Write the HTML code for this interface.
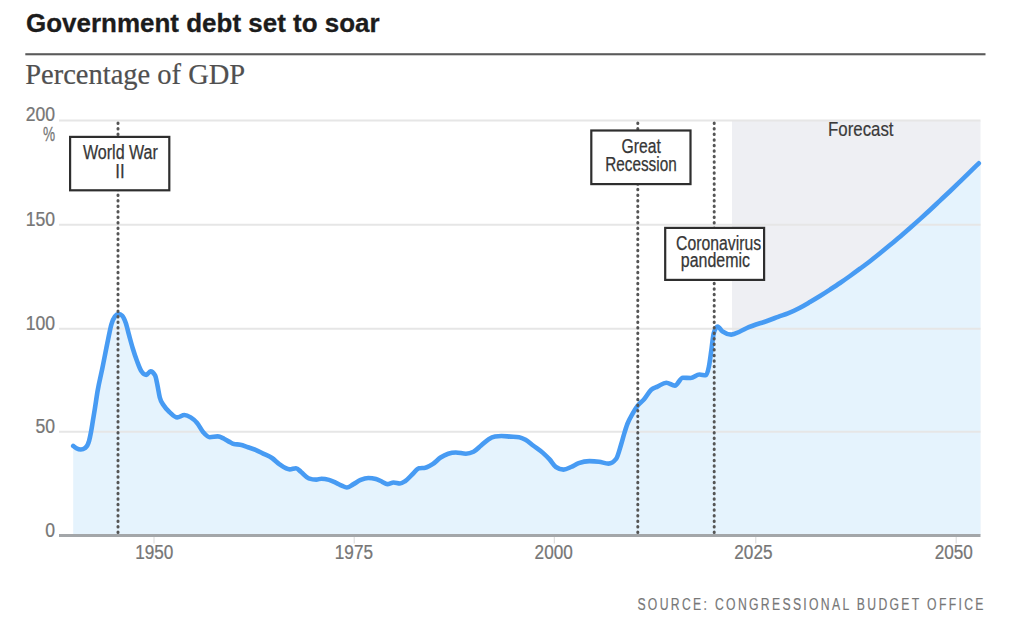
<!DOCTYPE html>
<html><head><meta charset="utf-8">
<style>
html,body{margin:0;padding:0;background:#fff;width:1024px;height:631px;overflow:hidden}
svg{display:block}
.s{font-family:"Liberation Sans",sans-serif}
.sf{font-family:"Liberation Serif",serif}
</style></head>
<body>
<svg width="1024" height="631" viewBox="0 0 1024 631">
<rect width="1024" height="631" fill="#fff"/>
<text class="s" x="26" y="31.5" font-size="26.5" font-weight="bold" fill="#1c1c1c" stroke="#1c1c1c" stroke-width="0.3" textLength="353.6" lengthAdjust="spacingAndGlyphs">Government debt set to soar</text>
<rect x="25.3" y="53.2" width="960.2" height="2.1" fill="#5a5a5a"/>
<text class="sf" x="25.2" y="83.5" font-size="28.6" fill="#505050" stroke="#505050" stroke-width="0.2" textLength="220" lengthAdjust="spacingAndGlyphs">Percentage of GDP</text>

<!-- forecast shade -->
<rect x="732" y="121" width="248.5" height="414" fill="#eeeff3"/>
<!-- fill -->
<path d="M73.2,445.9 C74.27,446.76 75.33,447.62 76.4,448.2 C77.87,448.99 79.33,449.50 80.8,449.5 C82.30,449.50 83.80,448.93 85.3,447.8 C86.57,446.84 87.83,445.47 89.1,440.8 C89.73,438.47 90.37,435.37 91.0,432.0 C91.63,428.63 92.27,424.40 92.9,420.6 C93.53,416.80 94.17,413.13 94.8,409.2 C95.73,403.41 96.67,396.47 97.6,391.0 C99.17,381.82 100.73,376.15 102.3,368.5 C104.20,359.22 106.10,349.04 108.0,340.0 C109.13,334.60 110.27,328.20 111.4,324.3 C112.60,320.17 113.80,318.05 115.0,316.4 C116.17,314.80 117.33,314.00 118.5,314.0 C119.70,314.00 120.90,314.57 122.1,315.7 C123.30,316.83 124.50,319.39 125.7,322.8 C126.87,326.11 128.03,331.47 129.2,335.7 C130.40,340.05 131.60,344.55 132.8,348.5 C134.23,353.22 135.67,357.50 137.1,361.3 C138.53,365.10 139.97,369.19 141.4,371.3 C143.03,373.70 144.67,374.90 146.3,374.9 C147.70,374.90 149.10,371.40 150.5,371.4 C152.03,371.40 153.57,372.73 155.1,375.4 C155.87,376.73 156.63,381.31 157.4,384.9 C158.20,388.64 159.00,394.30 159.8,397.5 C161.13,402.83 162.47,403.29 163.8,405.5 C165.90,408.99 168.00,410.68 170.1,412.6 C172.47,414.77 174.83,417.40 177.2,417.4 C179.60,417.40 182.00,415.00 184.4,415.0 C186.50,415.00 188.60,416.10 190.7,417.4 C192.83,418.72 194.97,420.37 197.1,422.9 C199.20,425.39 201.30,430.02 203.4,432.4 C205.50,434.78 207.60,437.20 209.7,437.2 C212.37,437.20 215.03,436.40 217.7,436.4 C219.80,436.40 221.90,437.69 224.0,438.7 C225.83,439.58 227.67,440.92 229.5,441.9 C230.97,442.69 232.43,443.83 233.9,444.1 C236.03,444.50 238.17,444.30 240.3,444.7 C242.83,445.17 245.37,446.35 247.9,447.2 C250.43,448.05 252.97,448.73 255.5,449.8 C258.03,450.87 260.57,452.34 263.1,453.6 C266.07,455.08 269.03,455.98 272.0,458.0 C274.53,459.73 277.07,462.64 279.6,464.4 C282.97,466.73 286.33,469.40 289.7,469.4 C291.80,469.40 293.90,468.20 296.0,468.2 C297.70,468.20 299.40,470.68 301.1,472.0 C303.63,473.97 306.17,477.43 308.7,478.3 C311.23,479.17 313.77,479.60 316.3,479.6 C318.00,479.60 319.70,478.70 321.4,478.7 C323.93,478.70 326.47,479.17 329.0,479.9 C331.53,480.63 334.07,481.93 336.6,483.1 C338.30,483.89 340.00,484.87 341.7,485.6 C343.40,486.33 345.10,487.50 346.8,487.5 C348.90,487.50 351.00,485.53 353.1,484.4 C355.63,483.04 358.17,480.97 360.7,479.9 C363.23,478.83 365.77,478.00 368.3,478.0 C370.83,478.00 373.37,478.33 375.9,479.0 C378.00,479.55 380.10,480.86 382.2,481.8 C383.90,482.56 385.60,484.10 387.3,484.1 C389.40,484.10 391.50,482.50 393.6,482.5 C395.73,482.50 397.87,483.50 400.0,483.5 C401.70,483.50 403.40,482.31 405.1,481.2 C407.63,479.55 410.17,476.34 412.7,474.0 C414.80,472.06 416.90,468.70 419.0,468.3 C421.10,467.90 423.20,468.10 425.3,467.7 C427.87,467.21 430.43,465.62 433.0,463.9 C435.53,462.21 438.07,459.20 440.6,457.5 C443.13,455.80 445.67,454.50 448.2,453.7 C450.73,452.90 453.27,452.50 455.8,452.5 C459.17,452.50 462.53,453.70 465.9,453.7 C468.43,453.70 470.97,453.07 473.5,451.8 C476.03,450.53 478.57,447.60 481.1,445.5 C483.63,443.40 486.17,440.72 488.7,439.2 C490.83,437.92 492.97,437.01 495.1,436.6 C497.20,436.20 499.30,436.00 501.4,436.0 C504.37,436.00 507.33,436.40 510.3,436.6 C513.27,436.80 516.23,436.80 519.2,437.2 C521.30,437.48 523.40,438.61 525.5,439.8 C528.03,441.23 530.57,443.60 533.1,445.5 C536.47,448.03 539.83,450.09 543.2,453.1 C545.33,455.01 547.47,457.06 549.6,459.4 C551.70,461.70 553.80,465.56 555.9,467.0 C558.43,468.73 560.97,469.60 563.5,469.6 C566.03,469.60 568.57,468.07 571.1,467.0 C573.63,465.93 576.17,464.15 578.7,463.2 C582.30,461.85 585.90,461.10 589.5,461.1 C592.67,461.10 595.83,461.30 599.0,461.7 C602.17,462.10 605.33,463.60 608.5,463.6 C611.03,463.60 613.57,462.03 616.1,458.9 C617.77,456.84 619.43,449.90 621.1,444.5 C622.17,441.05 623.23,436.88 624.3,433.4 C625.33,430.03 626.37,426.63 627.4,423.9 C629.00,419.68 630.60,417.27 632.2,414.4 C634.03,411.11 635.87,408.11 637.7,405.7 C639.83,402.90 641.97,401.78 644.1,399.3 C646.47,396.55 648.83,391.93 651.2,389.8 C653.30,387.91 655.40,387.61 657.5,386.6 C660.43,385.19 663.37,382.70 666.3,382.7 C669.17,382.70 672.03,385.60 674.9,385.6 C677.53,385.60 680.17,377.70 682.8,377.7 C685.43,377.70 688.07,378.00 690.7,378.0 C693.60,378.00 696.50,374.50 699.4,374.5 C701.53,374.50 703.67,375.30 705.8,375.3 C706.83,375.30 707.87,371.72 708.9,366.6 C709.70,362.63 710.50,356.25 711.3,350.7 C712.10,345.15 712.90,336.05 713.7,333.3 C715.00,328.83 716.30,326.60 717.6,326.6 C719.20,326.60 720.80,330.25 722.4,331.4 C725.37,333.53 728.33,334.60 731.3,334.6 C734.20,334.60 737.10,332.72 740.0,331.5 C742.93,330.26 745.87,328.45 748.8,327.2 C751.20,326.18 753.60,325.32 756.0,324.5 C758.50,323.65 761.00,323.03 763.5,322.2 C766.00,321.37 768.50,320.43 771.0,319.5 C773.37,318.62 775.73,317.67 778.1,316.8 C781.37,315.60 784.63,314.71 787.9,313.4 C791.93,311.78 795.97,309.82 800.0,307.7 C803.33,305.95 806.67,303.95 810.0,302.0 C813.33,300.05 816.67,298.07 820.0,296.0 C823.33,293.93 826.67,291.77 830.0,289.6 C833.33,287.43 836.67,285.27 840.0,283.0 C843.33,280.73 846.67,278.38 850.0,276.0 C853.33,273.62 856.67,271.17 860.0,268.7 C863.33,266.23 866.67,263.77 870.0,261.2 C873.33,258.63 876.67,255.98 880.0,253.3 C883.33,250.62 886.67,247.87 890.0,245.1 C893.33,242.33 896.67,239.55 900.0,236.7 C903.33,233.85 906.67,230.93 910.0,228.0 C913.33,225.07 916.67,222.10 920.0,219.1 C923.33,216.10 926.67,213.08 930.0,210.0 C933.33,206.92 936.67,203.73 940.0,200.6 C943.33,197.47 946.67,194.37 950.0,191.2 C953.33,188.03 956.67,184.82 960.0,181.6 C963.33,178.38 966.67,175.15 970.0,171.9 C972.93,169.04 975.87,166.17 978.8,163.3 L980.3,161.3 L980.3,535 L73.2,535 Z" fill="#e5f3fd"/>
<!-- gridlines -->
<g stroke="#e6e6e6" stroke-width="2">
<line x1="59" y1="120.4" x2="980.5" y2="120.4"/>
<line x1="59" y1="224.8" x2="980.5" y2="224.8"/>
<line x1="59" y1="328.7" x2="980.5" y2="328.7"/>
<line x1="59" y1="431.7" x2="980.5" y2="431.7"/>
</g>
<!-- axis -->
<rect x="59" y="534" width="921.5" height="3" fill="#a3a6a9"/>
<g stroke="#d8d8d8" stroke-width="1">
<line x1="154" y1="537" x2="154" y2="543.5"/>
<line x1="354.2" y1="537" x2="354.2" y2="543.5"/>
<line x1="554.3" y1="537" x2="554.3" y2="543.5"/>
<line x1="755.8" y1="537" x2="755.8" y2="543.5"/>
<line x1="956.2" y1="537" x2="956.2" y2="543.5"/>
</g>
<!-- data line -->
<path d="M73.2,445.9 C74.27,446.76 75.33,447.62 76.4,448.2 C77.87,448.99 79.33,449.50 80.8,449.5 C82.30,449.50 83.80,448.93 85.3,447.8 C86.57,446.84 87.83,445.47 89.1,440.8 C89.73,438.47 90.37,435.37 91.0,432.0 C91.63,428.63 92.27,424.40 92.9,420.6 C93.53,416.80 94.17,413.13 94.8,409.2 C95.73,403.41 96.67,396.47 97.6,391.0 C99.17,381.82 100.73,376.15 102.3,368.5 C104.20,359.22 106.10,349.04 108.0,340.0 C109.13,334.60 110.27,328.20 111.4,324.3 C112.60,320.17 113.80,318.05 115.0,316.4 C116.17,314.80 117.33,314.00 118.5,314.0 C119.70,314.00 120.90,314.57 122.1,315.7 C123.30,316.83 124.50,319.39 125.7,322.8 C126.87,326.11 128.03,331.47 129.2,335.7 C130.40,340.05 131.60,344.55 132.8,348.5 C134.23,353.22 135.67,357.50 137.1,361.3 C138.53,365.10 139.97,369.19 141.4,371.3 C143.03,373.70 144.67,374.90 146.3,374.9 C147.70,374.90 149.10,371.40 150.5,371.4 C152.03,371.40 153.57,372.73 155.1,375.4 C155.87,376.73 156.63,381.31 157.4,384.9 C158.20,388.64 159.00,394.30 159.8,397.5 C161.13,402.83 162.47,403.29 163.8,405.5 C165.90,408.99 168.00,410.68 170.1,412.6 C172.47,414.77 174.83,417.40 177.2,417.4 C179.60,417.40 182.00,415.00 184.4,415.0 C186.50,415.00 188.60,416.10 190.7,417.4 C192.83,418.72 194.97,420.37 197.1,422.9 C199.20,425.39 201.30,430.02 203.4,432.4 C205.50,434.78 207.60,437.20 209.7,437.2 C212.37,437.20 215.03,436.40 217.7,436.4 C219.80,436.40 221.90,437.69 224.0,438.7 C225.83,439.58 227.67,440.92 229.5,441.9 C230.97,442.69 232.43,443.83 233.9,444.1 C236.03,444.50 238.17,444.30 240.3,444.7 C242.83,445.17 245.37,446.35 247.9,447.2 C250.43,448.05 252.97,448.73 255.5,449.8 C258.03,450.87 260.57,452.34 263.1,453.6 C266.07,455.08 269.03,455.98 272.0,458.0 C274.53,459.73 277.07,462.64 279.6,464.4 C282.97,466.73 286.33,469.40 289.7,469.4 C291.80,469.40 293.90,468.20 296.0,468.2 C297.70,468.20 299.40,470.68 301.1,472.0 C303.63,473.97 306.17,477.43 308.7,478.3 C311.23,479.17 313.77,479.60 316.3,479.6 C318.00,479.60 319.70,478.70 321.4,478.7 C323.93,478.70 326.47,479.17 329.0,479.9 C331.53,480.63 334.07,481.93 336.6,483.1 C338.30,483.89 340.00,484.87 341.7,485.6 C343.40,486.33 345.10,487.50 346.8,487.5 C348.90,487.50 351.00,485.53 353.1,484.4 C355.63,483.04 358.17,480.97 360.7,479.9 C363.23,478.83 365.77,478.00 368.3,478.0 C370.83,478.00 373.37,478.33 375.9,479.0 C378.00,479.55 380.10,480.86 382.2,481.8 C383.90,482.56 385.60,484.10 387.3,484.1 C389.40,484.10 391.50,482.50 393.6,482.5 C395.73,482.50 397.87,483.50 400.0,483.5 C401.70,483.50 403.40,482.31 405.1,481.2 C407.63,479.55 410.17,476.34 412.7,474.0 C414.80,472.06 416.90,468.70 419.0,468.3 C421.10,467.90 423.20,468.10 425.3,467.7 C427.87,467.21 430.43,465.62 433.0,463.9 C435.53,462.21 438.07,459.20 440.6,457.5 C443.13,455.80 445.67,454.50 448.2,453.7 C450.73,452.90 453.27,452.50 455.8,452.5 C459.17,452.50 462.53,453.70 465.9,453.7 C468.43,453.70 470.97,453.07 473.5,451.8 C476.03,450.53 478.57,447.60 481.1,445.5 C483.63,443.40 486.17,440.72 488.7,439.2 C490.83,437.92 492.97,437.01 495.1,436.6 C497.20,436.20 499.30,436.00 501.4,436.0 C504.37,436.00 507.33,436.40 510.3,436.6 C513.27,436.80 516.23,436.80 519.2,437.2 C521.30,437.48 523.40,438.61 525.5,439.8 C528.03,441.23 530.57,443.60 533.1,445.5 C536.47,448.03 539.83,450.09 543.2,453.1 C545.33,455.01 547.47,457.06 549.6,459.4 C551.70,461.70 553.80,465.56 555.9,467.0 C558.43,468.73 560.97,469.60 563.5,469.6 C566.03,469.60 568.57,468.07 571.1,467.0 C573.63,465.93 576.17,464.15 578.7,463.2 C582.30,461.85 585.90,461.10 589.5,461.1 C592.67,461.10 595.83,461.30 599.0,461.7 C602.17,462.10 605.33,463.60 608.5,463.6 C611.03,463.60 613.57,462.03 616.1,458.9 C617.77,456.84 619.43,449.90 621.1,444.5 C622.17,441.05 623.23,436.88 624.3,433.4 C625.33,430.03 626.37,426.63 627.4,423.9 C629.00,419.68 630.60,417.27 632.2,414.4 C634.03,411.11 635.87,408.11 637.7,405.7 C639.83,402.90 641.97,401.78 644.1,399.3 C646.47,396.55 648.83,391.93 651.2,389.8 C653.30,387.91 655.40,387.61 657.5,386.6 C660.43,385.19 663.37,382.70 666.3,382.7 C669.17,382.70 672.03,385.60 674.9,385.6 C677.53,385.60 680.17,377.70 682.8,377.7 C685.43,377.70 688.07,378.00 690.7,378.0 C693.60,378.00 696.50,374.50 699.4,374.5 C701.53,374.50 703.67,375.30 705.8,375.3 C706.83,375.30 707.87,371.72 708.9,366.6 C709.70,362.63 710.50,356.25 711.3,350.7 C712.10,345.15 712.90,336.05 713.7,333.3 C715.00,328.83 716.30,326.60 717.6,326.6 C719.20,326.60 720.80,330.25 722.4,331.4 C725.37,333.53 728.33,334.60 731.3,334.6 C734.20,334.60 737.10,332.72 740.0,331.5 C742.93,330.26 745.87,328.45 748.8,327.2 C751.20,326.18 753.60,325.32 756.0,324.5 C758.50,323.65 761.00,323.03 763.5,322.2 C766.00,321.37 768.50,320.43 771.0,319.5 C773.37,318.62 775.73,317.67 778.1,316.8 C781.37,315.60 784.63,314.71 787.9,313.4 C791.93,311.78 795.97,309.82 800.0,307.7 C803.33,305.95 806.67,303.95 810.0,302.0 C813.33,300.05 816.67,298.07 820.0,296.0 C823.33,293.93 826.67,291.77 830.0,289.6 C833.33,287.43 836.67,285.27 840.0,283.0 C843.33,280.73 846.67,278.38 850.0,276.0 C853.33,273.62 856.67,271.17 860.0,268.7 C863.33,266.23 866.67,263.77 870.0,261.2 C873.33,258.63 876.67,255.98 880.0,253.3 C883.33,250.62 886.67,247.87 890.0,245.1 C893.33,242.33 896.67,239.55 900.0,236.7 C903.33,233.85 906.67,230.93 910.0,228.0 C913.33,225.07 916.67,222.10 920.0,219.1 C923.33,216.10 926.67,213.08 930.0,210.0 C933.33,206.92 936.67,203.73 940.0,200.6 C943.33,197.47 946.67,194.37 950.0,191.2 C953.33,188.03 956.67,184.82 960.0,181.6 C963.33,178.38 966.67,175.15 970.0,171.9 C972.93,169.04 975.87,166.17 978.8,163.3" fill="none" stroke="#479bf3" stroke-width="4.6" stroke-linejoin="round" stroke-linecap="round"/>

<!-- dotted lines -->
<g stroke="#555" stroke-width="3" stroke-dasharray="0.5 5.026" stroke-linecap="round">
<line x1="118" y1="123.05" x2="118" y2="534"/>
<line x1="637.8" y1="123.05" x2="637.8" y2="534"/>
<line x1="714.2" y1="123.05" x2="714.2" y2="534"/>
</g>
<!-- boxes -->
<g fill="#fff" stroke="#2e2e2e" stroke-width="2.2">
<rect x="70.1" y="136.9" width="99.2" height="53.4"/>
<rect x="591.3" y="130.5" width="99.2" height="53.6"/>
<rect x="665.2" y="227.9" width="98.9" height="52"/>
</g>
<g class="s" fill="#363636" font-size="19.6" stroke="#363636" stroke-width="0.25">
<text x="82.9" y="159.3" textLength="75" lengthAdjust="spacingAndGlyphs">World War</text>
<text x="115.3" y="177.8" textLength="9.4" lengthAdjust="spacingAndGlyphs">II</text>
<text x="621.6" y="152.5" textLength="39.3" lengthAdjust="spacingAndGlyphs">Great</text>
<text x="605.2" y="171.2" textLength="71.5" lengthAdjust="spacingAndGlyphs">Recession</text>
<text x="676.1" y="250.2" textLength="85" lengthAdjust="spacingAndGlyphs">Coronavirus</text>
<text x="680.8" y="266.9" textLength="69.2" lengthAdjust="spacingAndGlyphs">pandemic</text>
<text x="828.1" y="135.9" font-size="20.5" fill="#3a3a3a" stroke="#3a3a3a" stroke-width="0.2" textLength="65.4" lengthAdjust="spacingAndGlyphs">Forecast</text>
</g>
<!-- y labels -->
<g class="s" fill="#767676" stroke="#767676" stroke-width="0.25" font-size="20" text-anchor="end">
<text transform="translate(55,121) scale(0.88,1)">200</text>
<text transform="translate(55,140.5) scale(0.68,1)">%</text>
<text transform="translate(55,225.6) scale(0.88,1)">150</text>
<text transform="translate(55,329.7) scale(0.88,1)">100</text>
<text transform="translate(55,432.8) scale(0.88,1)">50</text>
<text transform="translate(55,537) scale(0.88,1)">0</text>
</g>
<g class="s" fill="#767676" stroke="#767676" stroke-width="0.25" font-size="19.5" text-anchor="middle">
<text transform="translate(154.3,559) scale(0.88,1)">1950</text>
<text transform="translate(353.9,559) scale(0.88,1)">1975</text>
<text transform="translate(553.7,559) scale(0.88,1)">2000</text>
<text transform="translate(753.4,559) scale(0.88,1)">2025</text>
<text transform="translate(953.8,559) scale(0.88,1)">2050</text>
</g>
<text class="s" transform="translate(637.4,609.5) scale(0.74,1)" font-size="16.5" fill="#777" stroke="#777" stroke-width="0.2" textLength="467.6" lengthAdjust="spacing">SOURCE: CONGRESSIONAL BUDGET OFFICE</text>
</svg>
</body></html>
